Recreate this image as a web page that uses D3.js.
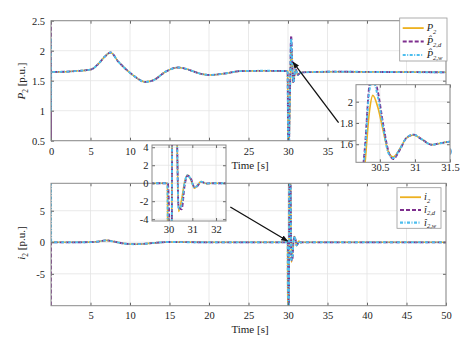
<!DOCTYPE html>
<html>
<head>
<meta charset="utf-8">
<script src="https://cdn.jsdelivr.net/npm/d3@7"></script>
<style>
  body { margin: 0; background: #fff; }
  svg { display: block; font-family: "Liberation Serif", "DejaVu Serif", serif; }
</style>
</head>
<body>
<svg width="474" height="351"></svg>
<script>
// ---- data ----
const tP = [0, 0.01, 0.02, 2, 3, 5, 6, 6.8, 7.55, 8.5, 9.5, 10.5, 11.9, 13, 14.5, 16.1, 17.5, 18.8, 20.1, 22, 24, 27, 29.95,
  30.02, 30.1, 30.2, 30.29, 30.35, 30.4, 30.47, 30.55, 30.62, 30.69, 30.78, 30.88, 30.98, 31.1, 31.24, 31.38, 31.5, 32, 36, 42, 50];
const p2  = [0.3, 1.0, 1.645, 1.65, 1.66, 1.685, 1.78, 1.9, 1.97, 1.82, 1.69, 1.58, 1.48, 1.51, 1.65, 1.72, 1.68, 1.62, 1.595, 1.62, 1.66, 1.665, 1.66,
  0.4, 0.3, 0.9, 1.43, 1.9, 2.06, 1.95, 1.72, 1.53, 1.48, 1.55, 1.66, 1.687, 1.645, 1.595, 1.612, 1.625, 1.64, 1.65, 1.645, 1.64];
const p2d = [2.6, 0.3, 1.645, 1.65, 1.66, 1.685, 1.78, 1.9, 1.97, 1.82, 1.69, 1.58, 1.48, 1.51, 1.65, 1.72, 1.68, 1.62, 1.595, 1.62, 1.66, 1.665, 1.66,
  0.3, 0.2, 1.0, 1.6, 2.15, 2.25, 2.1, 1.78, 1.54, 1.46, 1.54, 1.66, 1.69, 1.645, 1.595, 1.612, 1.625, 1.64, 1.65, 1.645, 1.64];
const p2w = [2.2, 1.0, 1.645, 1.65, 1.66, 1.685, 1.78, 1.9, 1.97, 1.82, 1.69, 1.58, 1.48, 1.51, 1.65, 1.72, 1.68, 1.62, 1.595, 1.62, 1.66, 1.665, 1.66,
  0.2, 0.25, 0.95, 1.55, 2.1, 2.2, 2.05, 1.75, 1.52, 1.47, 1.55, 1.66, 1.69, 1.645, 1.595, 1.612, 1.625, 1.64, 1.65, 1.645, 1.64];

const tI = [0, 0.02, 3, 5, 6, 7, 8, 9, 10.5, 12, 13.5, 15, 17, 20, 25, 29.95,
  29.97, 30.12, 30.16, 30.3, 30.42, 30.55, 30.68, 30.8, 30.95, 31.09, 31.22, 31.37, 31.6, 31.8, 35, 50];
const i2  = [0, 0, 0, 0.02, 0.12, 0.3, 0.1, -0.15, -0.3, -0.22, -0.05, 0.05, 0.02, 0, 0, 0,
  -12, -12, 12, 12, -3.14, -1.8, 0.2, 0.92, 0.3, -0.55, -0.2, 0.18, -0.05, 0, 0, 0];
const i2d = [-11, 0, 0, 0.02, 0.12, 0.3, 0.1, -0.15, -0.3, -0.22, -0.05, 0.05, 0.02, 0, 0, 0,
  0, -12, 8, 12, -2.6, -2.9, -0.2, 0.85, 0.45, -0.45, -0.3, 0.15, -0.02, 0, 0, 0];
const i2w = [9.5, 0, 0, 0.02, 0.12, 0.3, 0.1, -0.15, -0.3, -0.22, -0.05, 0.05, 0.02, 0, 0, 0,
  -6, -12, 12, 12, -2.9, -2.4, 0.1, 0.9, 0.35, -0.5, -0.25, 0.17, -0.04, 0, 0, 0];

const xTicksTop = [0, 5, 10, 15, 20, 25, 30, 35, 40, 45, 50];
const xTicksBot = [5, 10, 15, 20, 25, 30, 35, 40, 45, 50];
const yTicksTop = [0.5, 1, 1.5, 2, 2.5];
const yTicksBot = [-5, 0, 5];
const xTicksIn1 = [30.5, 31, 31.5];
const yTicksIn1 = [1.6, 1.8, 2];
const xTicksIn2 = [30, 31, 32];
const yTicksIn2 = [-4, -2, 0, 2, 4];

// arrow tail -> head, in data units of the host panel
const arrowTop = [[36.4, 0.8], [30.63, 1.81]];
const arrowBot = [[22.7, 5.6], [29.95, 0.2]];

const FONT = "Liberation Serif";
const styles = [
  { color: "#EDB120", dash: null, w: 1.6 },
  { color: "#7E2F8E", dash: "4,2", w: 1.8 },
  { color: "#4DBEEE", dash: "3,1.5,1,1.5", w: 1.9 }
];

const svg = d3.select("svg");
let clipId = 0;

function zip(t, v) { return t.map((d, i) => [d, v[i]]); }

function panel(o) {
  const x = d3.scaleLinear().domain(o.xd).range(o.xr);
  const y = d3.scaleLinear().domain(o.yd).range(o.yr);
  const g = svg.append("g");
  const [x0, x1] = o.xr, [y0, y1] = o.yr;

  g.append("rect").attr("x", x0).attr("y", y1).attr("width", x1 - x0).attr("height", y0 - y1).attr("fill", "#fff");

  // grid
  g.append("g").selectAll("line").data(o.xt).join("line")
    .attr("x1", d => x(d)).attr("x2", d => x(d)).attr("y1", y0).attr("y2", y1)
    .attr("stroke", "#e3e3e3").attr("stroke-width", 0.8);
  g.append("g").selectAll("line").data(o.yt).join("line")
    .attr("y1", d => y(d)).attr("y2", d => y(d)).attr("x1", x0).attr("x2", x1)
    .attr("stroke", "#e3e3e3").attr("stroke-width", 0.8);

  // series
  const id = "clip" + (clipId++);
  g.append("clipPath").attr("id", id).append("rect")
    .attr("x", x0).attr("y", y1).attr("width", x1 - x0).attr("height", y0 - y1);
  const line = d3.line().x(d => x(d[0])).y(d => y(d[1])).curve(d3.curveMonotoneX);
  g.append("g").attr("clip-path", `url(#${id})`).selectAll("path").data(o.series).join("path")
    .attr("d", d => line(d))
    .attr("fill", "none")
    .attr("stroke", (d, i) => styles[i].color)
    .attr("stroke-width", (d, i) => styles[i].w)
    .attr("stroke-dasharray", (d, i) => styles[i].dash);

  // axes (inward ticks, MATLAB style box)
  const fmt = d => String(d);
  const style = sel => {
    sel.select(".domain").remove();
    sel.attr("font-family", FONT).attr("font-size", 10.5).attr("color", "#666");
    sel.selectAll("text").attr("fill", "#222");
  };
  g.append("g").attr("transform", `translate(0,${y0})`)
    .call(d3.axisBottom(x).tickValues(o.xt).tickFormat(fmt).tickSizeInner(-3).tickSizeOuter(0).tickPadding(o.xpad))
    .call(style);
  g.append("g").attr("transform", `translate(0,${y1})`)
    .call(d3.axisTop(x).tickValues(o.xt).tickFormat("").tickSizeInner(-3).tickSizeOuter(0))
    .call(style);
  g.append("g").attr("transform", `translate(${x0},0)`)
    .call(d3.axisLeft(y).tickValues(o.yt).tickFormat(fmt).tickSizeInner(-3).tickSizeOuter(0).tickPadding(o.ypad))
    .call(style);
  g.append("g").attr("transform", `translate(${x1},0)`)
    .call(d3.axisRight(y).tickValues(o.yt).tickFormat("").tickSizeInner(-3).tickSizeOuter(0))
    .call(style);

  g.append("rect").attr("x", x0).attr("y", y1).attr("width", x1 - x0).attr("height", y0 - y1)
    .attr("fill", "none").attr("stroke", "#8a8a8a").attr("stroke-width", 1);
  return { x, y, g };
}

const pTop = panel({
  xd: [0, 50], xr: [51, 446], yd: [0.5, 2.5], yr: [140.7, 20.7],
  xt: xTicksTop, yt: yTicksTop, xpad: 7, ypad: 6,
  series: [zip(tP, p2), zip(tP, p2d), zip(tP, p2w)]
});
const pBot = panel({
  xd: [0, 50], xr: [51, 446], yd: [-10.05, 9.35], yr: [305.7, 183.3],
  xt: xTicksBot, yt: yTicksBot, xpad: 5.5, ypad: 6,
  series: [zip(tI, i2), zip(tI, i2d), zip(tI, i2w)]
});

// axis titles
function title(x, y, rot, parts) {
  const t = svg.append("text").attr("transform", `translate(${x},${y}) rotate(${rot})`)
    .attr("text-anchor", "middle").attr("font-family", FONT).attr("font-size", 11).attr("fill", "#222");
  parts.forEach(p => {
    const s = t.append("tspan").text(p.t);
    if (p.i) s.attr("font-style", "italic");
    if (p.sub) s.attr("font-size", 7.5).attr("dy", 2.5);
    if (p.up) s.attr("dy", -2.5);
  });
}
title(250, 169, 0, [{ t: "Time [s]" }]);
title(250, 333, 0, [{ t: "Time [s]" }]);
title(25, 81, -90, [{ t: "P", i: true }, { t: "2", sub: true }, { t: " [p.u.]", up: true }]);
title(25, 243, -90, [{ t: "i", i: true }, { t: "2", sub: true }, { t: " [p.u.]", up: true }]);

// insets
panel({
  xd: [30.16, 31.5], xr: [356, 450], yd: [1.43, 2.16], yr: [162.3, 84.7],
  xt: xTicksIn1, yt: yTicksIn1, xpad: 1, ypad: 3,
  series: [zip(tP, p2), zip(tP, p2d), zip(tP, p2w)]
});
panel({
  xd: [29.3, 32.42], xr: [152, 226], yd: [-4.2, 4.25], yr: [221, 145],
  xt: xTicksIn2, yt: yTicksIn2, xpad: 5, ypad: 3.5,
  series: [zip(tI, i2), zip(tI, i2d), zip(tI, i2w)]
});

// arrows
svg.append("defs").append("marker").attr("id", "ah")
  .attr("viewBox", "0 0 10 10").attr("refX", 9).attr("refY", 5)
  .attr("markerWidth", 7).attr("markerHeight", 7).attr("orient", "auto-start-reverse")
  .attr("markerUnits", "userSpaceOnUse")
  .append("path").attr("d", "M0,1 L10,5 L0,9 Z").attr("fill", "#111");
[[arrowTop, pTop], [arrowBot, pBot]].forEach(([a, p]) => {
  svg.append("line")
    .attr("x1", p.x(a[0][0])).attr("y1", p.y(a[0][1]))
    .attr("x2", p.x(a[1][0])).attr("y2", p.y(a[1][1]))
    .attr("stroke", "#111").attr("stroke-width", 1.3).attr("marker-end", "url(#ah)");
});

// legends
function legend(x, y, w, h, labels) {
  const g = svg.append("g").attr("transform", `translate(${x},${y})`);
  g.append("rect").attr("width", w).attr("height", h).attr("fill", "#fff").attr("stroke", "#999").attr("stroke-width", 0.8);
  const step = h / 3.2;
  labels.forEach((lab, i) => {
    const cy = step * 0.75 + i * step;
    g.append("line").attr("x1", 3).attr("x2", 24).attr("y1", cy).attr("y2", cy)
      .attr("stroke", styles[i].color).attr("stroke-width", styles[i].w + 0.2)
      .attr("stroke-dasharray", styles[i].dash);
    const t = g.append("text").attr("x", 27).attr("y", cy + 3).attr("font-family", FONT).attr("font-size", 10.5).attr("fill", "#222");
    t.append("tspan").attr("font-style", "italic").text(lab[0]);
    t.append("tspan").attr("font-size", 6.5).attr("dy", 2.5).attr("font-style", "italic").text(lab[1]);
  });
}
legend(399.7, 18, 47.3, 43, [["P", "2"], ["P\u0302", "2,d"], ["P\u0302", "2,w"]]);
legend(397, 187.7, 44, 40.6, [["i", "2"], ["i\u0302", "2,d"], ["i\u0302", "2,w"]]);
</script>
</body>
</html>
